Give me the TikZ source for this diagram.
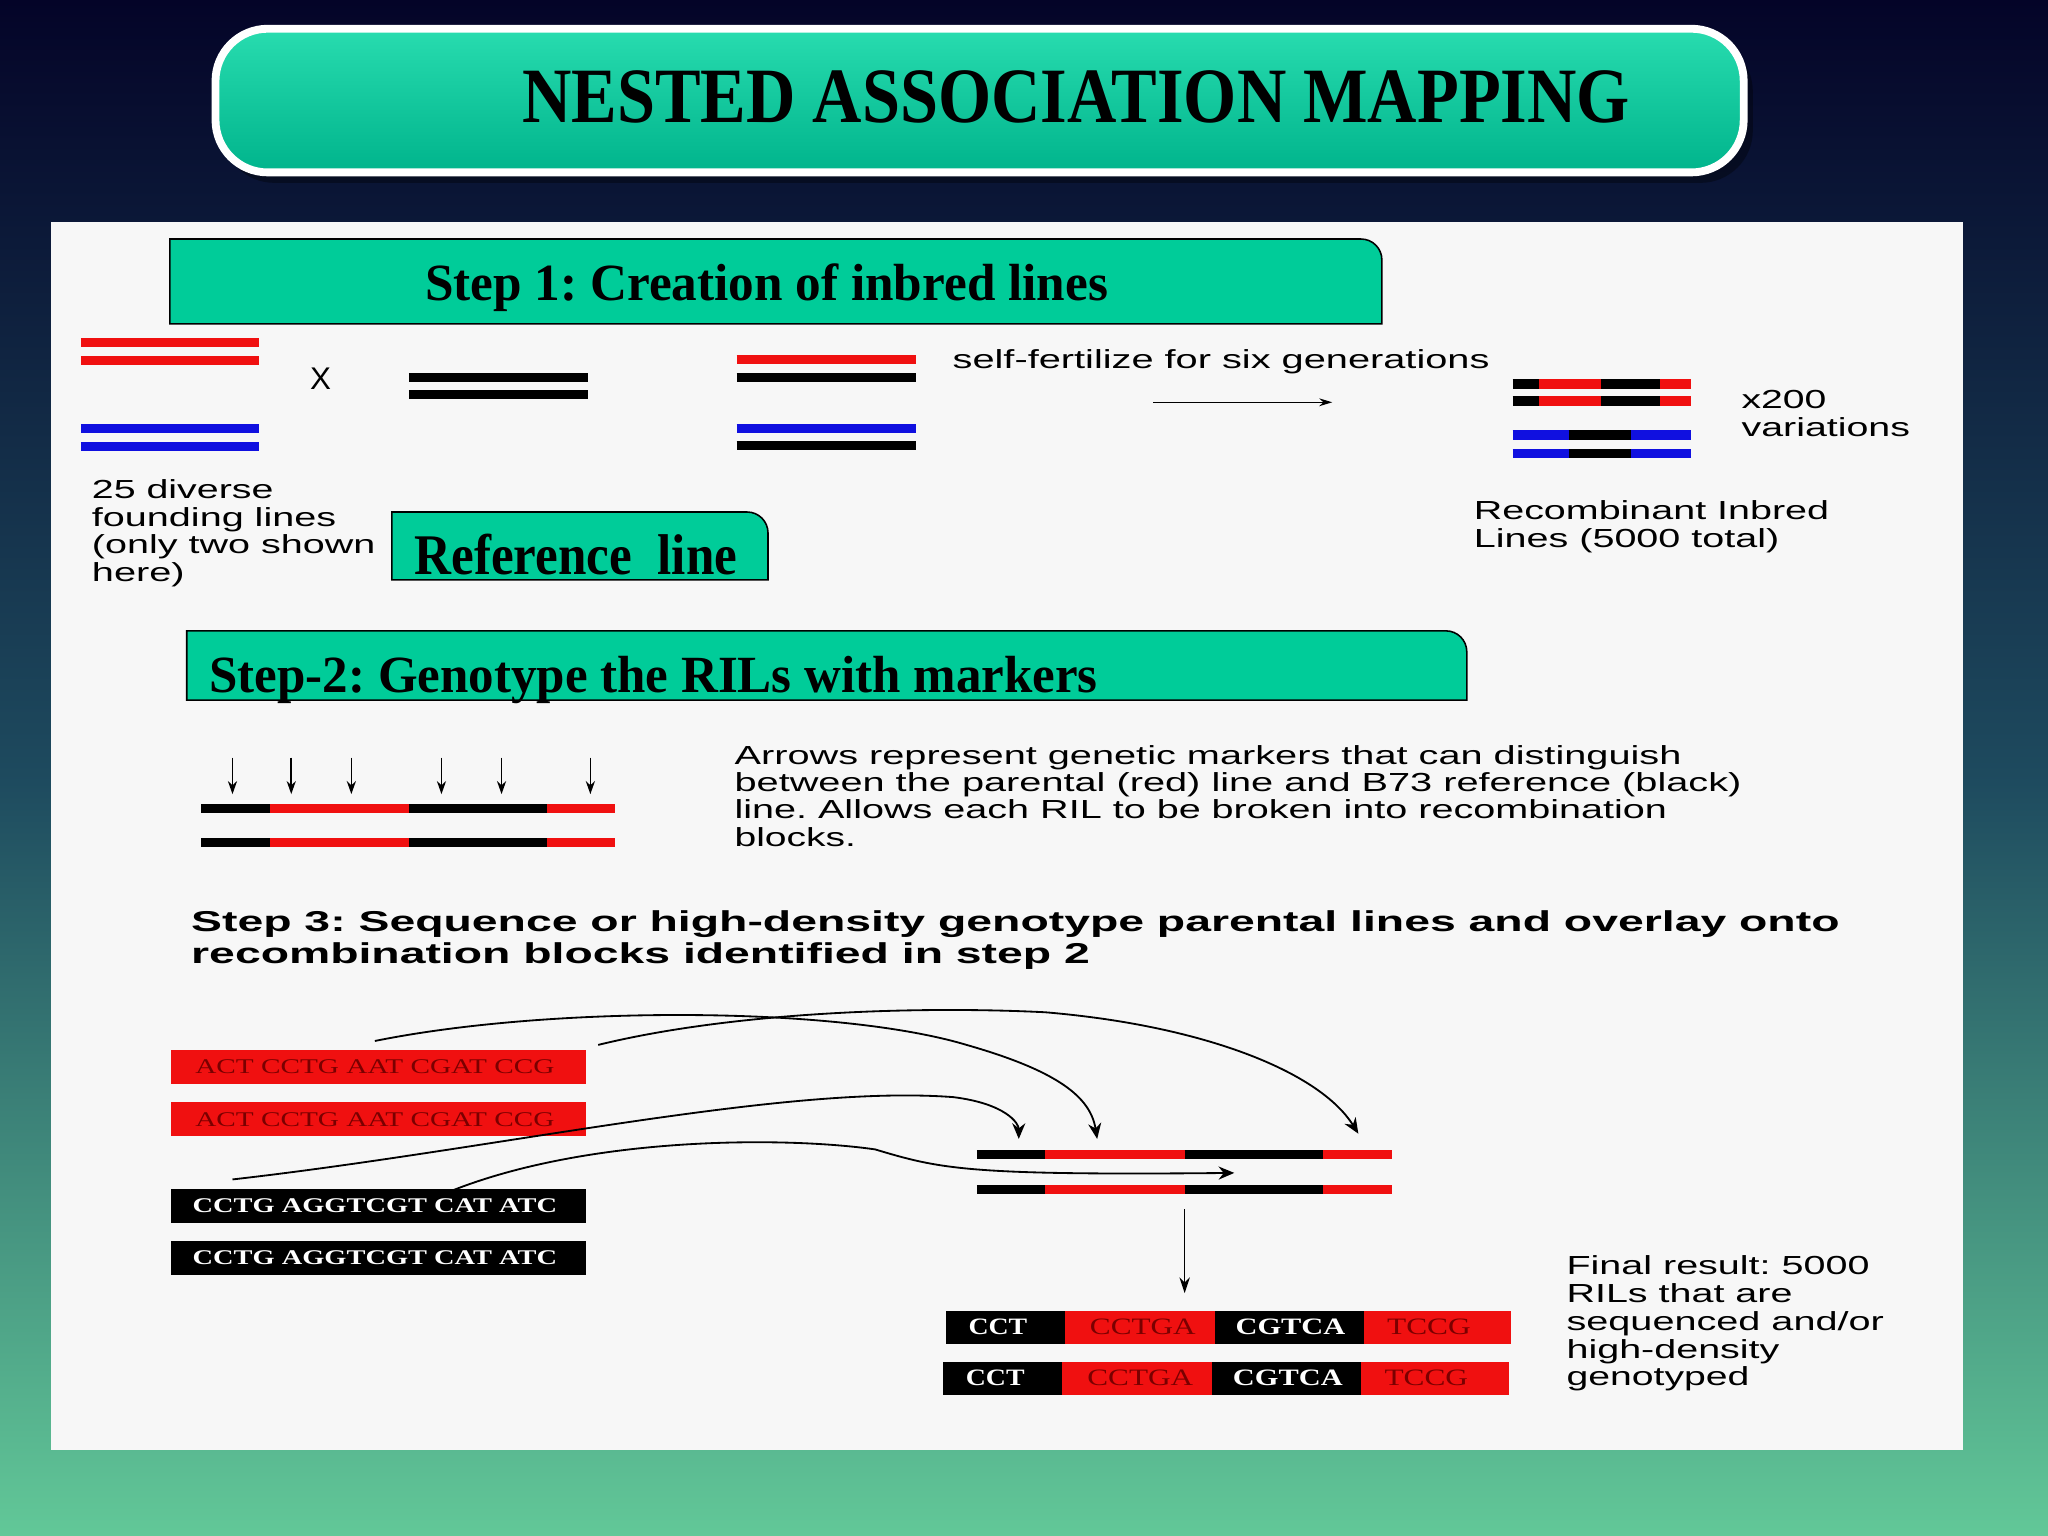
\documentclass[tikz,border=0pt]{standalone}
\usepackage{fontspec}
\setmainfont{Liberation Serif}
\setsansfont{Liberation Sans}
\usetikzlibrary{arrows.meta}
\frenchspacing
\newsavebox\fitbox
\newcommand\fitw[2]{\sbox\fitbox{#2}\pgfmathsetmacro\fitfac{#1/\the\wd\fitbox}\scalebox{\fitfac}[1]{\usebox\fitbox}}
\definecolor{teal1}{HTML}{00CC99}
\definecolor{redb}{HTML}{F01010}
\definecolor{blueb}{HTML}{1010E0}
\definecolor{dred}{HTML}{7A0000}
\tikzset{
  tl/.style={anchor=base west,inner sep=0pt,font=\sffamily\fontsize{10}{12}\selectfont},
  tlb/.style={tl,font=\sffamily\bfseries\fontsize{11}{13}\selectfont},
  stepbox/.style={draw=black,line width=0.6pt,fill=teal1},
  steptext/.style={anchor=base west,inner sep=0pt,font=\bfseries\fontsize{20}{24}\selectfont},
  barline/.style={line width=3.5pt},
  link/.style={line width=0.7pt,-{Stealth[length=6pt,width=5pt]}},
  seqtext/.style={inner sep=0pt,font=\fontsize{8}{9}\selectfont},
}
\newcommand\gbar[4]{\draw[barline,#4] (#1,#3) -- (#2,#3);}
\begin{document}
\begin{tikzpicture}[x=0.5pt,y=-0.5pt]
\useasboundingbox (0,0) rectangle (1568,1176);
% background
\shade[top color={rgb,255:red,30;green,75;blue,95}, bottom color={rgb,255:red,98;green,200;blue,152}] (0,599) rectangle (1568,1176);
\shade[top color={rgb,255:red,4;green,4;blue,40}, bottom color={rgb,255:red,30;green,75;blue,95}] (0,0) rectangle (1568,600);
% title
\fill[black,opacity=0.35,rounded corners=20] (170,30) rectangle (1342,140);
\shade[draw=white,line width=3pt,rounded corners=20,top color={rgb,255:red,40;green,220;blue,175},bottom color={rgb,255:red,0;green,180;blue,140}] (165,22) rectangle (1335,132);
\node[anchor=base,inner sep=0pt,font=\bfseries\fontsize{30}{34}\selectfont] (title) at (824,94) {\fitw{424pt}{NESTED ASSOCIATION MAPPING}};
% panel
\fill[white!97!black] (39,170) rectangle (1503,1110);
% step 1
\draw[stepbox] (130,248) -- (130,183) [rounded corners=8pt] -- (1058,183) [rounded corners=0pt] -- (1058,248) -- cycle;
\node[steptext] (s1) at (325,230) {\fitw{261.5pt}{Step 1: Creation of inbred lines}};
\gbar{62}{198}{262}{redb}\gbar{62}{198}{276}{redb}
\gbar{62}{198}{328}{blueb}\gbar{62}{198}{342}{blueb}
\node[tl,font=\sffamily\fontsize{12}{12}\selectfont] (x) at (237,298) {X};
\gbar{313}{450}{289}{black}\gbar{313}{450}{302}{black}
\gbar{564}{701}{275}{redb}\gbar{564}{701}{289}{black}
\gbar{564}{701}{328}{blueb}\gbar{564}{701}{341}{black}
\node[tl] (sf) at (729,282) {\fitw{205.5pt}{self-fertilize for six generations}};
\coordinate (a1) at (883,308); \coordinate (a2) at (1020,308);
\draw[line width=0.5pt,-{Stealth[length=5pt,width=3pt]}] (a1) -- (a2);
\foreach \y in {294,307}{\gbar{1158}{1178}{\y}{black}\gbar{1178}{1226}{\y}{redb}\gbar{1226}{1271}{\y}{black}\gbar{1271}{1295}{\y}{redb}}
\foreach \y in {333,347}{\gbar{1158}{1201}{\y}{blueb}\gbar{1201}{1249}{\y}{black}\gbar{1249}{1295}{\y}{blueb}}
\node[tl] (x200) at (1333,313) {\fitw{32.5pt}{x200}};
\node[tl] (var) at (1333,334) {\fitw{64.5pt}{variations}};
\node[tl] (ril1) at (1128,398) {\fitw{136pt}{Recombinant Inbred}};
\node[tl] (ril2) at (1128,419) {\fitw{117pt}{Lines (5000 total)}};
\node[tl] (d1) at (70,382) {\fitw{69.5pt}{25 diverse}};
\node[tl] (d2) at (70,403) {\fitw{93.5pt}{founding lines}};
\node[tl] (d3) at (70,424) {\fitw{108.5pt}{(only two shown}};
\node[tl] (d4) at (70,445) {\fitw{35.5pt}{here)}};
\draw[stepbox] (300,444) -- (300,392) [rounded corners=8pt] -- (588,392) [rounded corners=0pt] -- (588,444) -- cycle;
\node[steptext,font=\bfseries\fontsize{22}{24}\selectfont] (ref) at (317,440) {\fitw{123.5pt}{Reference\ \ line}};
% step 2
\draw[stepbox] (143,536) -- (143,483) [rounded corners=8pt] -- (1123,483) [rounded corners=0pt] -- (1123,536) -- cycle;
\node[steptext] (s2) at (160,530) {\fitw{340pt}{Step-2: Genotype the RILs with markers}};
\foreach \x in {178,223,269,338,384,452}{\draw[line width=0.6pt,-{Stealth[length=5pt,width=3.5pt]}] (\x,580) -- (\x,608);}
\foreach \y in {619,645}{\gbar{154}{207}{\y}{black}\gbar{207}{313}{\y}{redb}\gbar{313}{419}{\y}{black}\gbar{419}{471}{\y}{redb}}
\node[tl] (p1) at (562,585) {\fitw{362.5pt}{Arrows represent genetic markers that can distinguish}};
\node[tl] (p2) at (562,606) {\fitw{385.5pt}{between the parental (red) line and B73 reference (black)}};
\node[tl] (p3) at (562,627) {\fitw{357pt}{line. Allows each RIL to be broken into recombination}};
\node[tl] (p4) at (562,648) {\fitw{46.5pt}{blocks.}};
% step 3
\node[tlb] (t1) at (146,713) {\fitw{631pt}{Step 3: Sequence or high-density genotype parental lines and overlay onto}};
\node[tlb] (t2) at (146,738) {\fitw{344pt}{recombination blocks identified in step 2}};
\fill[redb] (131,804) rectangle (449,830);
\fill[redb] (131,844) rectangle (449,870);
\fill[black] (131,910) rectangle (449,936);
\fill[black] (131,950) rectangle (449,976);
\node[seqtext,text=dred] (r1) at (287,817) {\fitw{137.5pt}{ACT CCTG AAT CGAT CCG}};
\node[seqtext,text=dred] (r2) at (287,857) {\fitw{137.5pt}{ACT CCTG AAT CGAT CCG}};
\node[seqtext,text=white,font=\bfseries\fontsize{8}{9}\selectfont] (b1) at (287,923) {\fitw{139.5pt}{CCTG AGGTCGT CAT ATC}};
\node[seqtext,text=white,font=\bfseries\fontsize{8}{9}\selectfont] (b2) at (287,963) {\fitw{139.5pt}{CCTG AGGTCGT CAT ATC}};
\foreach \y in {884,911}{\gbar{748}{800}{\y}{black}\gbar{800}{907}{\y}{redb}\gbar{907}{1013}{\y}{black}\gbar{1013}{1066}{\y}{redb}}
\draw[link] (287,797) .. controls (420,770) and (640,770) .. (740,800) .. controls (810,820) and (835,840) .. (840,872);
\draw[link] (458,800) .. controls (560,775) and (700,770) .. (800,775) .. controls (920,785) and (1010,820) .. (1040,868);
\draw[link] (178,903) .. controls (380,880) and (600,830) .. (730,840) .. controls (770,845) and (780,860) .. (780,872);
\draw[link] (345,912) .. controls (450,870) and (600,870) .. (670,880) .. controls (720,895) and (740,900) .. (945,898);
\coordinate (d0) at (907,926); \coordinate (dd) at (907,990);
\draw[line width=0.6pt,-{Stealth[length=6pt,width=4pt]}] (d0) -- (dd);
\foreach \dx/\yt in {0/1004,-2/1043}{
  \fill[black] (724+\dx,\yt) rectangle (815+\dx,\yt+25);
  \fill[redb] (815+\dx,\yt) rectangle (930+\dx,\yt+25);
  \fill[black] (930+\dx,\yt) rectangle (1044+\dx,\yt+25);
  \fill[redb] (1044+\dx,\yt) rectangle (1157+\dx,\yt+25);
  \node[seqtext,text=white,font=\bfseries\fontsize{9}{9}\selectfont] at (764+\dx,\yt+12) {\fitw{22.5pt}{CCT}};
  \node[seqtext,text=dred,font=\fontsize{9}{9}\selectfont] at (875+\dx,\yt+12) {\fitw{40.5pt}{CCTGA}};
  \node[seqtext,text=white,font=\bfseries\fontsize{9}{9}\selectfont] at (988+\dx,\yt+12) {\fitw{42pt}{CGTCA}};
  \node[seqtext,text=dred,font=\fontsize{9}{9}\selectfont] at (1094+\dx,\yt+12) {\fitw{32pt}{TCCG}};
}
\node[tl] (f1) at (1199,976) {\fitw{116pt}{Final result: 5000}};
\node[tl] (f2) at (1199,997) {\fitw{86.5pt}{RILs that are}};
\node[tl] (f3) at (1199,1019) {\fitw{121.5pt}{sequenced and/or}};
\node[tl] (f4) at (1199,1040) {\fitw{81.5pt}{high-density}};
\node[tl] (f5) at (1199,1061) {\fitw{70pt}{genotyped}};
\end{tikzpicture}
\end{document}
